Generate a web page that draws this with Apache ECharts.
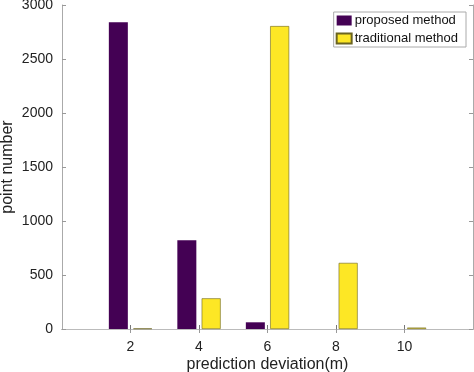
<!DOCTYPE html>
<html>
<head>
<meta charset="utf-8">
<script src="https://cdn.jsdelivr.net/npm/echarts@6/dist/echarts.min.js"></script>
<style>html,body{margin:0;padding:0;background:#fff}#c{width:474px;height:372px}</style>
</head>
<body>
<div id="c"></div>
<script>
var categories = ['0', '2', '4', '6', '8', '10', '12'];
var proposed = ['-', 2840, 821, 62, 0, 0, '-'];
var traditional = ['-', 5, 284, 2805, 612, 13, '-'];
var yTicks = [0, 500, 1000, 1500, 2000, 2500, 3000];

var FONT = '"Liberation Sans", Arial, Helvetica, sans-serif';
var shown = function (i) { return i >= 1 && i <= 5; };
var chart = echarts.init(document.getElementById('c'));
chart.setOption({
  animation: false,
  textStyle: { fontFamily: FONT },
  grid: { left: 62, right: 1, top: 5, bottom: 43, containLabel: false, outerBoundsMode: 'none' },
  legend: {
    right: 8, top: 12, orient: 'vertical', icon: 'rect',
    itemWidth: 15, itemHeight: 10, itemGap: 5,
    padding: [2, 8, 2, 2],
    borderColor: '#aaa', borderWidth: 1, backgroundColor: '#fff',
    textStyle: { fontSize: 13, color: '#111', fontFamily: FONT, padding: [0, 0, 0, -2] },
    data: ['proposed method', 'traditional method']
  },
  xAxis: [{
    type: 'category', data: categories, boundaryGap: false,
    name: 'prediction deviation(m)', nameLocation: 'middle', nameGap: 28, nameMoveOverlap: false,
    nameTextStyle: { fontSize: 16, color: '#222', fontFamily: FONT },
    axisLine: { lineStyle: { color: '#777', width: 1 } },
    axisTick: { inside: true, length: 4, interval: function (i) { return shown(i); }, lineStyle: { color: '#777' } },
    axisLabel: { fontSize: 14, color: '#222', margin: 11, interval: function (i) { return shown(i); }, formatter: function (v, i) { return shown(i) ? v : ''; } },
    splitLine: { show: false }
  }, {
    type: 'category', data: categories, boundaryGap: false, position: 'top',
    axisLine: { lineStyle: { color: '#bbb' } },
    axisTick: { inside: true, length: 4, interval: function (i) { return shown(i); }, lineStyle: { color: '#999' } },
    axisLabel: { show: false }
  }],
  yAxis: [{
    type: 'value', min: 0, max: 3000, interval: 500,
    name: 'point number', nameLocation: 'middle', nameGap: 46, nameMoveOverlap: false,
    nameTextStyle: { fontSize: 16, color: '#222', fontFamily: FONT },
    axisLine: { show: true, lineStyle: { color: '#aaa' } },
    axisTick: { show: true, inside: true, length: 4, lineStyle: { color: '#999' } },
    axisLabel: { fontSize: 14, color: '#222', margin: 9,
      formatter: function (v) { return yTicks.indexOf(v) >= 0 ? String(v) : ''; } },
    splitLine: { show: false }
  }, {
    type: 'value', min: 0, max: 3000, interval: 500, position: 'right',
    axisLine: { show: true, lineStyle: { color: '#aaa' } },
    axisTick: { show: true, inside: true, length: 4, lineStyle: { color: '#999' } },
    axisLabel: { show: false }, splitLine: { show: false }
  }],
  series: [{
    name: 'proposed method', type: 'bar', data: proposed,
    barWidth: 19, barGap: '28%',
    itemStyle: { color: '#440154', borderWidth: 0 }
  }, {
    name: 'traditional method', type: 'bar', data: traditional,
    barWidth: 19, barGap: '28%',
    itemStyle: { color: '#FDE725', borderColor: '#6b6420', borderWidth: 0.6 }
  }]
});
</script>
</body>
</html>
